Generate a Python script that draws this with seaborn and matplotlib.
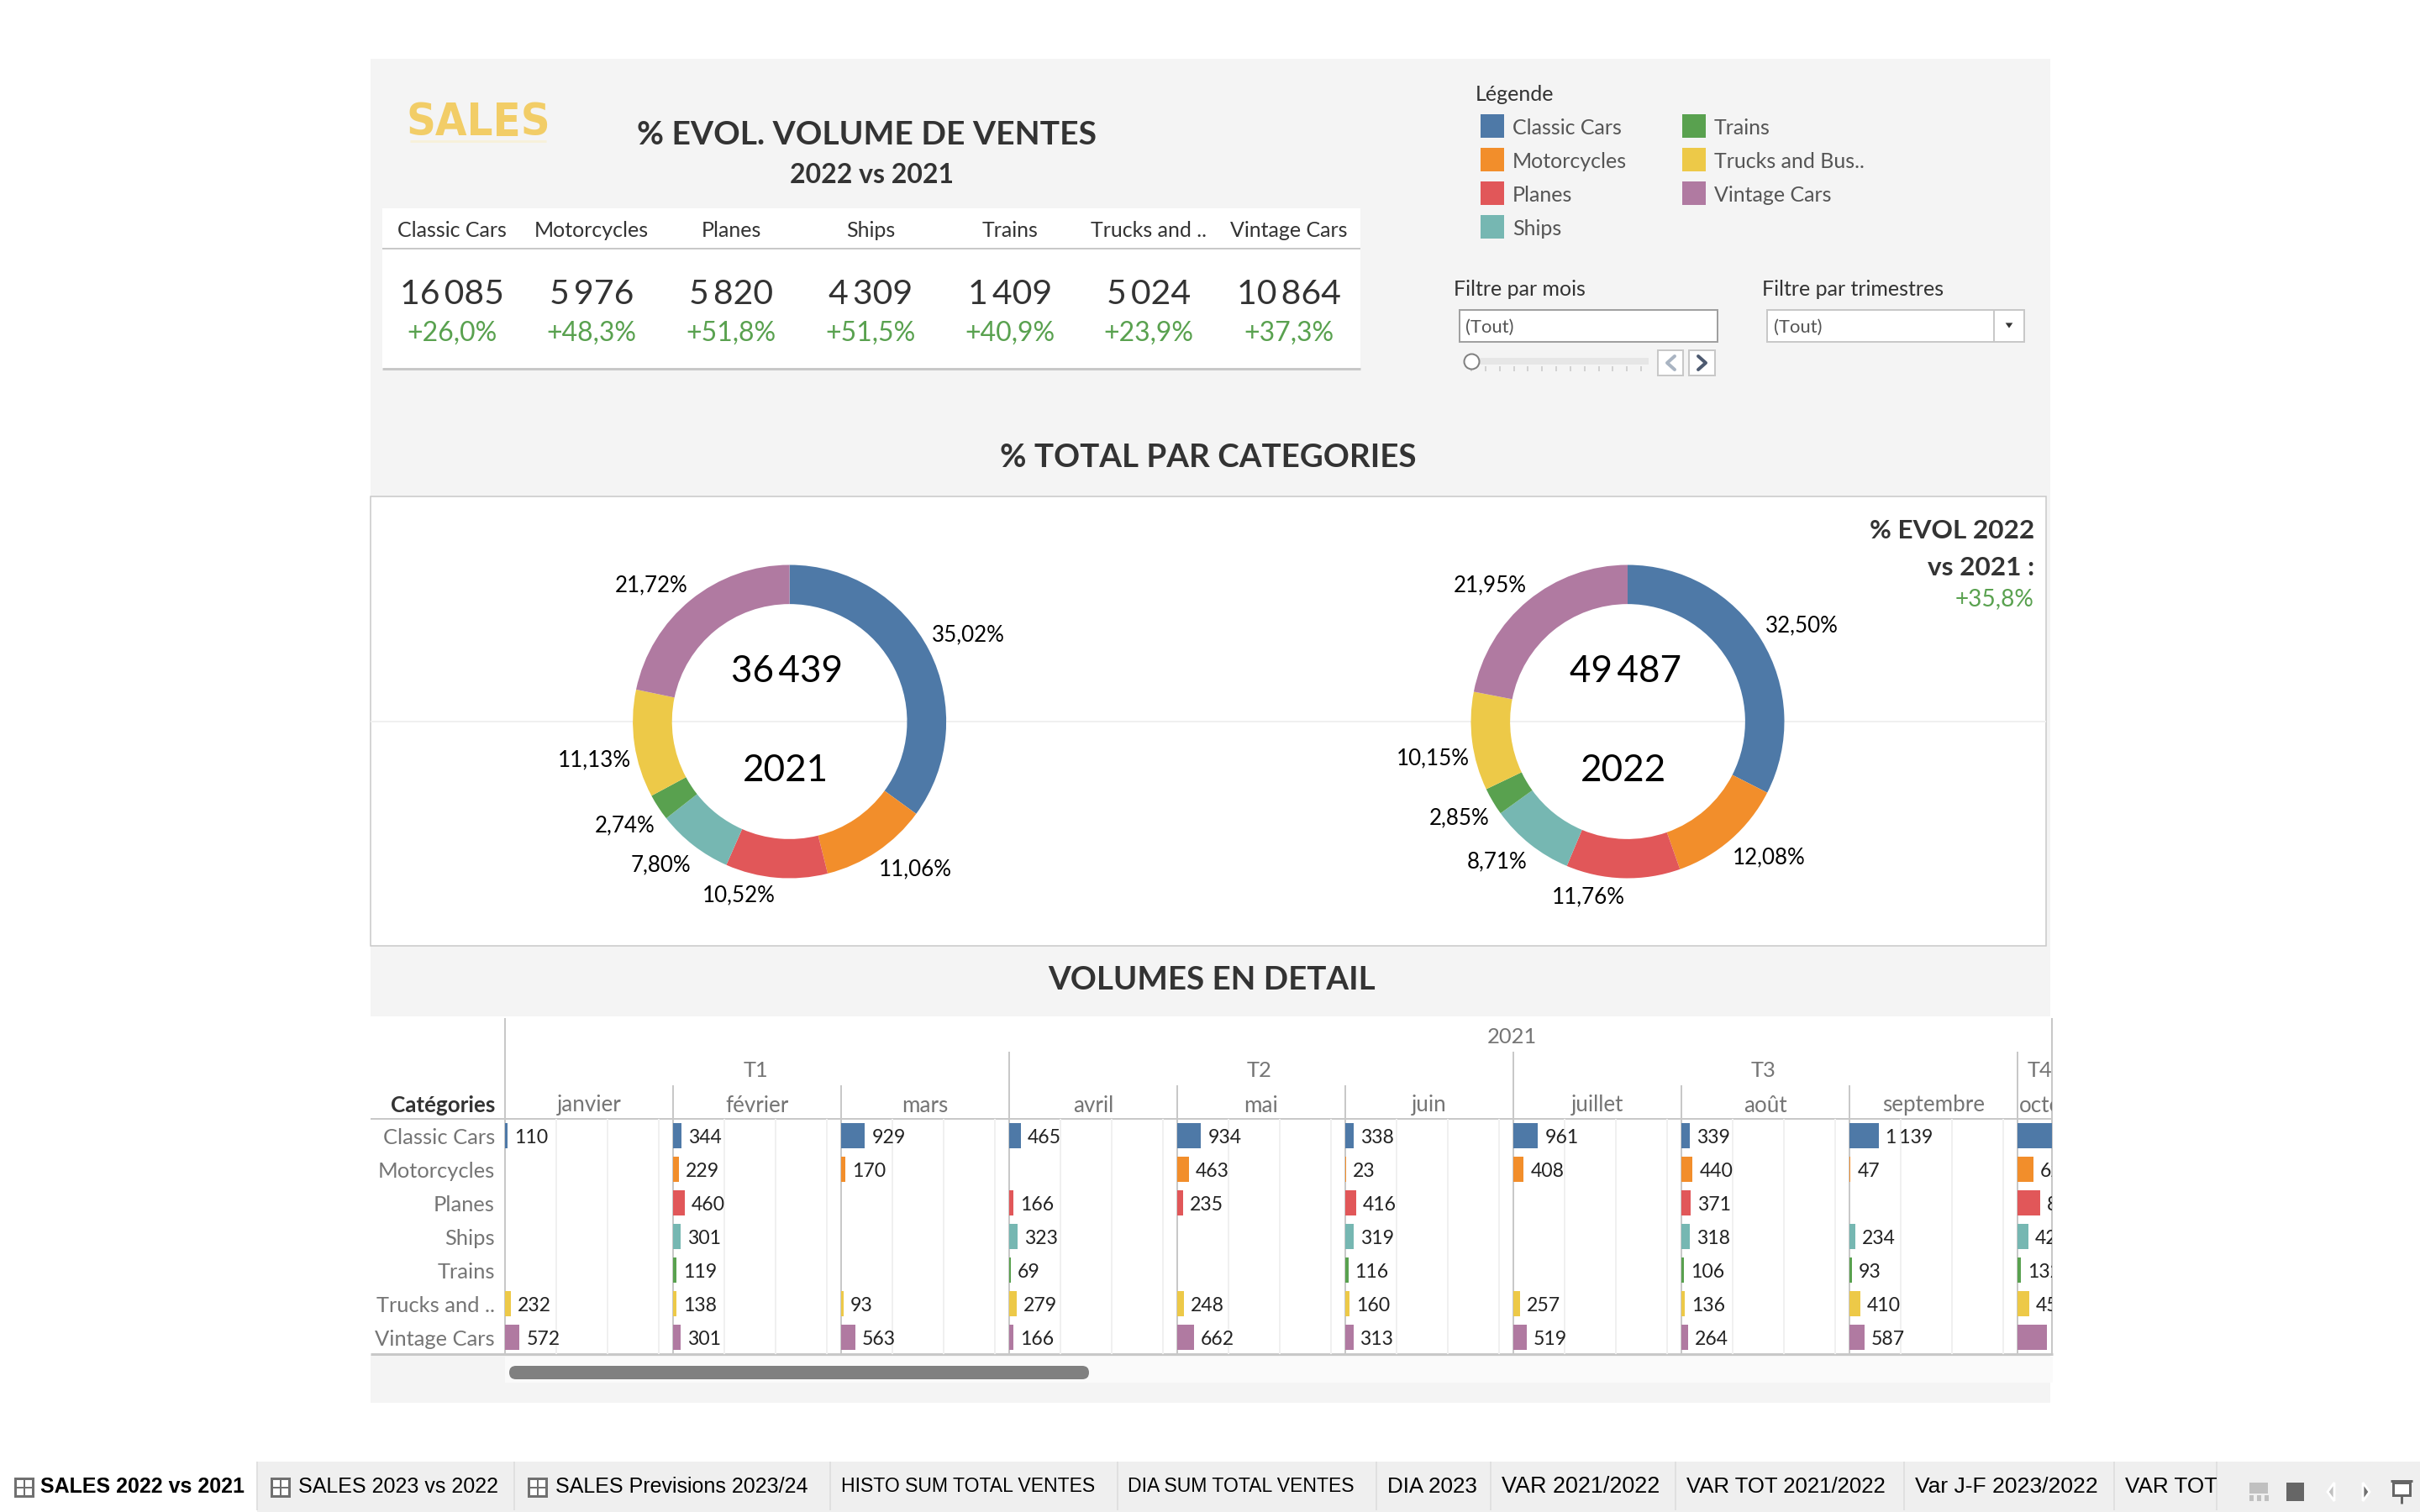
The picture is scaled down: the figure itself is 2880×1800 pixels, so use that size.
#%%
import matplotlib
matplotlib.use("Agg")
import matplotlib.pyplot as plt
from matplotlib.patches import Rectangle, FancyBboxPatch, Polygon
import numpy as np
import pandas as pd
import seaborn as sns

#%% data
categories = ["Classic Cars", "Motorcycles", "Planes", "Ships", "Trains", "Trucks and ..", "Vintage Cars"]
legend_labels = ["Classic Cars", "Motorcycles", "Planes", "Ships", "Trains", "Trucks and Bus..", "Vintage Cars"]
colors = ["#4e79a7", "#f28e2b", "#e15759", "#76b7b2", "#59a14f", "#edc948", "#b07aa1"]

kpi_values = ["16\u2009085", "5\u2009976", "5\u2009820", "4\u2009309", "1\u2009409", "5\u2009024", "10\u2009864"]
kpi_pct = ["+26,0%", "+48,3%", "+51,8%", "+51,5%", "+40,9%", "+23,9%", "+37,3%"]

share_2021 = [35.02, 11.06, 10.52, 7.80, 2.74, 11.13, 21.72]
share_2022 = [32.50, 12.08, 11.76, 8.71, 2.85, 10.15, 21.95]

months = ["janvier", "février", "mars", "avril", "mai", "juin", "juillet", "août", "septembre", "octobre"]
classic = [110, 344, 929, 465, 934, 338, 961, 339, 1139, 1500]
motorcycles = [None, 229, 170, None, 463, 23, 408, 440, 47, 620]
planes = [None, 460, None, 166, 235, 416, None, 371, None, 885]
ships = [None, 301, None, 323, None, 319, None, 318, 234, 426]
trains = [None, 119, None, 69, None, 116, None, 106, 93, 132]
trucks = [232, 138, 93, 279, 248, 160, 257, 136, 410, 450]
vintage = [572, 301, 563, 166, 662, 313, 519, 264, 587, 1148]

tabs = ["SALES 2022 vs 2021", "SALES 2023 vs 2022", "SALES Previsions 2023/24", "HISTO SUM TOTAL VENTES",
        "DIA SUM TOTAL VENTES", "DIA 2023", "VAR 2021/2022", "VAR TOT 2021/2022", "Var J-F 2023/2022", "VAR TOT 2023/2022"]

df = pd.DataFrame({"month": months, "Classic Cars": classic, "Motorcycles": motorcycles, "Planes": planes,
                   "Ships": ships, "Trains": trains, "Trucks and ..": trucks, "Vintage Cars": vintage})
long_df = df.melt(id_vars="month", var_name="cat", value_name="volume")
long_df["volume"] = long_df["volume"].astype(float)

#%% helpers
W, H = 2880, 1800
DPI = 200
sns.set_theme(style="white")
plt.rcParams["font.family"] = ["Lato", "DejaVu Sans"]
PX = 72 / DPI  # font points per pixel

DARK = "#333333"
GREY = "#757575"
GREEN = "#59a14f"
LINE = "#c8c8c8"

fig = plt.figure(figsize=(W / DPI, H / DPI), dpi=DPI, facecolor="white")
bg = fig.add_axes([0, 0, 1, 1], zorder=0)
bg.set_xlim(0, W)
bg.set_ylim(H, 0)
bg.axis("off")
top = fig.add_axes([0, 0, 1, 1], zorder=5)
top.set_xlim(0, W)
top.set_ylim(H, 0)
top.axis("off")
top.patch.set_alpha(0)


def rect(x0, y0, x1, y1, color, ax=bg, **kw):
    ax.add_patch(Rectangle((x0, y0), x1 - x0, y1 - y0, facecolor=color, edgecolor=kw.pop("edge", "none"),
                           linewidth=kw.pop("lw", 0), **kw))


def txt(x, y, s, size, color=DARK, ha="center", weight="normal", ax=top, **kw):
    return ax.text(x, y, s, fontsize=size * PX, color=color, ha=ha, va="center", fontweight=weight, **kw)


def hline(y, x0, x1, color=LINE, lw=2):
    bg.plot([x0, x1], [y, y], color=color, lw=lw * PX, solid_capstyle="butt")


def vline(x, y0, y1, color=LINE, lw=2):
    bg.plot([x, x], [y0, y1], color=color, lw=lw * PX, solid_capstyle="butt")


def clip(t, x0, y0, x1, y1):
    t.set_clip_path(Rectangle((x0, y0), x1 - x0, y1 - y0, transform=top.transData))
    t.set_clip_on(True)


#%% panels
rect(441, 70, 2440, 1670, "#f4f4f4")
rect(455, 248, 1619, 440, "white")
hline(296, 455, 1619, lw=2)
hline(439, 455, 1619, lw=3)

txt(569, 146, "SALES", 54, color="#f2cd67", weight="bold", family="DejaVu Sans", stretch="condensed")
hline(168, 488, 650, color="#f7f0da", lw=3)
txt(1032, 160, "% EVOL. VOLUME DE VENTES", 39, weight="bold")
txt(1038, 209, "2022 vs 2021", 32, weight="bold")

centers = [538, 704, 870, 1036, 1202, 1367, 1534]
for x, c, v, p in zip(centers, categories, kpi_values, kpi_pct):
    txt(x, 275, c, 25)
    txt(x, 351, v, 41)
    txt(x, 397, p, 32, color=GREEN)

# legend
txt(1756, 112, "Légende", 25, ha="left")
for i, (lab, col) in enumerate(zip(legend_labels, colors)):
    col_x = 1762 if i < 4 else 2002
    row_y = 150 + 40 * (i if i < 4 else i - 4)
    rect(col_x, row_y - 14, col_x + 28, row_y + 14, col)
    txt(col_x + 38, row_y + 2.5, lab, 25, ha="left", color="#555555")

# filters
txt(1730, 345, "Filtre par mois", 25, ha="left")
rect(1737, 369, 2044, 407, "white", edge="#a0a0a0", lw=2 * PX)
txt(1744, 389.5, "(Tout)", 22, ha="left", color="#555555")
rect(1760, 426, 1962, 434, "#e6e6e6")
for x in np.linspace(1751, 1953, 13):
    vline(x, 436, 442, color="#c8c8c8", lw=1.5)
bg.scatter([1751], [430], s=(18 * PX) ** 2, facecolor="white", edgecolor="#808080", linewidth=2 * PX, zorder=3)
for x0, x1, col, pts in [(1973, 2003, "#a9b4c2", [(1993, 424), (1984, 432), (1993, 440)]),
                         (2010, 2041, "#4d5a70", [(2021, 424), (2030, 432), (2021, 440)])]:
    rect(x0, 417, x1, 447, "white", edge="#c8c8c8", lw=2 * PX)
    bg.plot(*zip(*pts), color=col, lw=4 * PX)
txt(2097, 345, "Filtre par trimestres", 25, ha="left")
rect(2103, 369, 2409, 407, "white", edge="#c8c8c8", lw=2 * PX)
vline(2373, 369, 407)
txt(2111, 389.5, "(Tout)", 22, ha="left", color="#555555")
bg.add_patch(Polygon([(2384, 383), (2398, 383), (2391, 393)], facecolor="#333333"))

#%% donuts
txt(1438, 545, "% TOTAL PAR CATEGORIES", 38.5, weight="bold")
rect(441, 591, 2435, 1126, "white", edge=LINE, lw=1.5 * PX)
hline(859, 441, 2435, color="#f0f0f0", lw=2)
txt(2421, 632, "% EVOL 2022", 31.5, ha="right", weight="bold")
txt(2421, 676, "vs 2021 :", 31.5, ha="right", weight="bold")
txt(2421, 713.5, "+35,8%", 28, ha="right", color=GREEN)

labels_2021 = [(1152, 755), (1089, 1034), (879, 1065), (786, 1029), (744, 982), (707, 904), (775, 696)]
labels_2022 = [(2144, 744), (2105, 1020), (1890, 1067), (1782, 1025), (1737, 973), (1705, 902), (1773, 696)]
for cx, shares, lab_pos, total, year in [(939.6, share_2021, labels_2021, "36\u2009439", "2021"),
                                         (1937, share_2022, labels_2022, "49\u2009487", "2022")]:
    r = 186.5
    ax = fig.add_axes([(cx - r) / W, 1 - (859 + r) / H, 2 * r / W, 2 * r / H], zorder=3)
    ax.pie(shares, colors=colors, startangle=90, counterclock=False, radius=1,
           wedgeprops={"width": 0.25, "linewidth": 0})
    ax.set_xlim(-1, 1)
    ax.set_ylim(-1, 1)
    for (lx, ly), s in zip(lab_pos, shares):
        txt(lx, ly + 1, f"{s:.2f}%".replace(".", ","), 26, color="black")
    txt(cx - 3, 800, total, 44, color="black")
    txt(cx - 5, 918, year, 44, color="black")

#%% table
txt(1442, 1167, "VOLUMES EN DETAIL", 38.5, weight="bold")
rect(441, 1210, 2443, 1613, "white")
rect(601, 1615, 2443, 1646, "#fafafa")
bg.add_patch(FancyBboxPatch((606, 1626), 690, 16, boxstyle="round,pad=0,rounding_size=8", facecolor="#808080",
                            edgecolor="none"))

palette = dict(zip(categories, colors))
month_w = 200
px_per_unit = 0.0305
for i, m in enumerate(months):
    x0 = 601 + i * month_w
    w = month_w if i < 9 else 2442 - x0
    ax = fig.add_axes([x0 / W, 1 - 1612 / H, w / W, 280 / H], zorder=2)
    ax.patch.set_alpha(0)
    sub = long_df[long_df["month"] == m]
    for g in (2000, 4000, 6000):
        if g / (w / px_per_unit) < 1:
            ax.axvline(g, color="#f0f0f0", lw=2 * PX, zorder=0)
    sns.barplot(data=sub, x="volume", y="cat", hue="cat", order=categories, hue_order=categories, palette=palette,
                saturation=1, width=0.75, legend=False, ax=ax, zorder=2, linewidth=0)
    ax.set_xlim(0, w / px_per_unit)
    ax.set_ylim(6.5, -0.5)
    ax.set_xlabel("")
    ax.set_ylabel("")
    ax.set_xticks([])
    ax.set_yticks([])
    sns.despine(ax=ax, left=True, bottom=True)
    for row, c in enumerate(categories):
        v = sub.loc[sub["cat"] == c, "volume"].iloc[0]
        if not np.isnan(v):
            label = f"{int(v):,}".replace(",", "\u2009")
            ax.annotate(label, (v, row), xytext=(8 * PX, -2.5 * PX), textcoords="offset points", fontsize=23 * PX,
                        color="#222222", va="center", annotation_clip=True, clip_on=True)
    if i < 9:
        txt(x0 + 100, 1316, m, 26, color=GREY)
    else:
        t = txt(2403, 1316, m, 26, color=GREY, ha="left")
        clip(t, x0, 1290, 2442, 1332)

for x in [601 + i * month_w for i in range(1, 10)]:
    vline(x, 1292, 1612)
vline(601, 1212, 1612)
for x in (1201, 1801, 2401):
    vline(x, 1252, 1612)
vline(2442, 1212, 1612)
hline(1332, 441, 2443)
hline(1612, 441, 2443, lw=3)

txt(1799, 1235, "2021", 25.5, color=GREY)
for x, s in [(899, "T1"), (1499, "T2"), (2099, "T3")]:
    txt(x, 1275, s, 25.5, color=GREY)
t4 = txt(2413, 1275, "T4", 25.5, color=GREY, ha="left")
clip(t4, 2401, 1250, 2442, 1290)
txt(589, 1316, "Catégories", 26, ha="right", weight="bold")
for row, c in enumerate(categories):
    txt(589, 1355 + 40 * row, c, 25.5, ha="right", color=GREY)

#%% tab bar
rect(306, 1740, 2880, 1800, "#efefef")
edges = [306, 612, 988, 1330, 1638, 1774, 1994, 2266, 2516, 2638]
for x in edges:
    vline(x, 1740, 1798, color="#e0e0e0")
tab_x = [48, 355, 661, 1001, 1342, 1651, 1787, 2007, 2279, 2529]
tab_size = [25, 25, 25, 23, 23, 26, 27, 25.8, 26.5, 26]
for i, (x, s, fs) in enumerate(zip(tab_x, tabs, tab_size)):
    t = txt(x, 1770, s, fs, ha="left", color="black", weight="bold" if i == 0 else "normal",
            family="Liberation Sans")
    if i == 9:
        clip(t, 2516, 1740, 2638, 1800)
for x in (18, 323, 629):
    rect(x, 1760, x + 21, 1781, "white", edge="#707070", lw=3 * PX)
    vline(x + 10.5, 1760, 1781, color="#707070", lw=2)
    hline(1770.5, x, x + 21, color="#707070", lw=2)

rect(2677, 1765, 2699, 1778, "#c0c0c0")
for x in (2677, 2686, 2695):
    rect(x, 1780, x + 5, 1787, "#c0c0c0")
rect(2721, 1765, 2742, 1787, "#666666")
bg.add_patch(Polygon([(2778, 1765), (2770, 1776), (2778, 1787)], facecolor="#c0c0c0"))
bg.add_patch(Polygon([(2812, 1765), (2820, 1776), (2812, 1787)], facecolor="#707070"))
rect(2848, 1765, 2868, 1780, "white", edge="#666666", lw=3 * PX)
hline(1763, 2845, 2871, color="#666666", lw=3)
vline(2858, 1780, 1790, color="#666666", lw=3)

fig.savefig("out.png", dpi=DPI, facecolor="white")
